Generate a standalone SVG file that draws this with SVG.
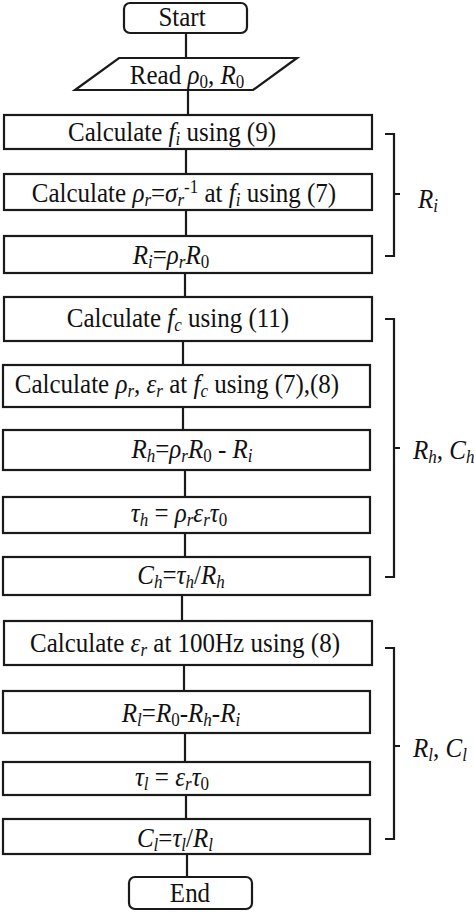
<svg xmlns="http://www.w3.org/2000/svg" width="474" height="912" viewBox="0 0 474 912">
<style>
.box{fill:#fff;stroke:#1a1a1a;stroke-width:2.2}
.c{stroke:#1a1a1a;stroke-width:2.2;fill:none}
.t{font-family:"Liberation Serif","Times New Roman",serif;font-size:25px;fill:#111;text-anchor:middle}
.l{text-anchor:start}
.i{font-style:italic}
.s{font-size:17px}
</style>
<rect width="474" height="912" fill="#fff"/>
<g id="connectors">
<path class="c" d="M186,33V58 M188,90V115 M186,149V174 M186,210V236 M185,273V297 M183,341V365 M183,407V430 M185,470V497 M185,533V557 M182,595V621 M184,665V691 M185,733V762 M186,795V819 M187,854V877"/>
</g>
<g id="start"><rect class="box" x="124" y="3" width="123" height="30" rx="6"/><text class="t" x="182" y="26" transform="matrix(1 0 0 1.08 0 -2.08)">Start</text></g>
<g id="read"><polygon class="box" points="119,58 297,58 253,90 75,90"/><text class="t" x="187" y="84" transform="matrix(1 0 0 1.08 0 -6.72)">Read <tspan class="i">ρ</tspan><tspan class="s" dy="4">0</tspan><tspan dy="-4">, </tspan><tspan class="i">R</tspan><tspan class="s" dy="4">0</tspan></text></g>
<g id="n1"><rect class="box" x="4" y="115" width="368" height="34"/><text class="t" x="172" y="141" transform="matrix(1 0 0 1.08 0 -11.28)">Calculate <tspan class="i">f</tspan><tspan class="s i" dy="4">i</tspan><tspan dy="-4"> using (9)</tspan></text></g>
<g id="n2"><rect class="box" x="4" y="174" width="368" height="36"/><text class="t" x="184" y="202" transform="matrix(1 0 0 1.08 0 -16.16)">Calculate <tspan class="i">ρ</tspan><tspan class="s i" dy="4">r</tspan><tspan dy="-4">=</tspan><tspan class="i">σ</tspan><tspan class="s i" dy="4">r</tspan><tspan class="s" dy="-12">-1</tspan><tspan dy="8"> at </tspan><tspan class="i">f</tspan><tspan class="s i" dy="4">i</tspan><tspan dy="-4"> using (7)</tspan></text></g>
<g id="n3"><rect class="box" x="4" y="236" width="368" height="37"/><text class="t" x="171" y="264" transform="matrix(1 0 0 1.08 0 -21.12)"><tspan class="i">R</tspan><tspan class="s i" dy="4">i</tspan><tspan dy="-4">=</tspan><tspan class="i">ρ</tspan><tspan class="s i" dy="4">r</tspan><tspan class="i" dy="-4">R</tspan><tspan class="s" dy="4">0</tspan></text></g>
<g id="n4"><rect class="box" x="4" y="297" width="368" height="44"/><text class="t" x="178" y="327" transform="matrix(1 0 0 1.08 0 -26.16)">Calculate <tspan class="i">f</tspan><tspan class="s i" dy="4">c</tspan><tspan dy="-4"> using (11)</tspan></text></g>
<g id="n5"><rect class="box" x="3" y="365" width="367" height="42"/><text class="t" x="177" y="393" transform="matrix(1 0 0 1.08 0 -31.44)">Calculate <tspan class="i">ρ</tspan><tspan class="s i" dy="4">r</tspan><tspan dy="-4">, </tspan><tspan class="i">ε</tspan><tspan class="s i" dy="4">r</tspan><tspan dy="-4"> at </tspan><tspan class="i">f</tspan><tspan class="s i" dy="4">c</tspan><tspan dy="-4"> using (7),(8)</tspan></text></g>
<g id="n6"><rect class="box" x="3" y="430" width="367" height="40"/><text class="t" x="192" y="458" transform="matrix(1 0 0 1.08 0 -36.64)"><tspan class="i">R</tspan><tspan class="s i" dy="4">h</tspan><tspan dy="-4">=</tspan><tspan class="i">ρ</tspan><tspan class="s i" dy="4">r</tspan><tspan class="i" dy="-4">R</tspan><tspan class="s" dy="4">0</tspan><tspan dy="-4"> - </tspan><tspan class="i">R</tspan><tspan class="s i" dy="4">i</tspan></text></g>
<g id="n7"><rect class="box" x="3" y="497" width="367" height="36"/><text class="t" x="179" y="522" transform="matrix(1 0 0 1.08 0 -41.76)"><tspan class="i">τ</tspan><tspan class="s i" dy="4">h</tspan><tspan dy="-4"> = </tspan><tspan class="i">ρ</tspan><tspan class="s i" dy="4">r</tspan><tspan class="i" dy="-4">ε</tspan><tspan class="s i" dy="4">r</tspan><tspan class="i" dy="-4">τ</tspan><tspan class="s" dy="4">0</tspan></text></g>
<g id="n8"><rect class="box" x="3" y="557" width="367" height="38"/><text class="t" x="181" y="584" transform="matrix(1 0 0 1.08 0 -46.72)"><tspan class="i">C</tspan><tspan class="s i" dy="4">h</tspan><tspan dy="-4">=</tspan><tspan class="i">τ</tspan><tspan class="s i" dy="4">h</tspan><tspan dy="-4">/</tspan><tspan class="i">R</tspan><tspan class="s i" dy="4">h</tspan></text></g>
<g id="n9"><rect class="box" x="4" y="621" width="368" height="44"/><text class="t" x="185" y="652" transform="matrix(1 0 0 1.08 0 -52.16)">Calculate <tspan class="i">ε</tspan><tspan class="s i" dy="4">r</tspan><tspan dy="-4"> at 100Hz using (8)</tspan></text></g>
<g id="n10"><rect class="box" x="3" y="691" width="367" height="42"/><text class="t" x="181" y="722" transform="matrix(1 0 0 1.08 0 -57.76)"><tspan class="i">R</tspan><tspan class="s i" dy="4">l</tspan><tspan dy="-4">=</tspan><tspan class="i">R</tspan><tspan class="s" dy="4">0</tspan><tspan dy="-4">-</tspan><tspan class="i">R</tspan><tspan class="s i" dy="4">h</tspan><tspan dy="-4">-</tspan><tspan class="i">R</tspan><tspan class="s i" dy="4">i</tspan></text></g>
<g id="n11"><rect class="box" x="3" y="762" width="367" height="33"/><text class="t" x="172" y="786" transform="matrix(1 0 0 1.08 0 -62.88)"><tspan class="i">τ</tspan><tspan class="s i" dy="4">l</tspan><tspan dy="-4"> = </tspan><tspan class="i">ε</tspan><tspan class="s i" dy="4">r</tspan><tspan class="i" dy="-4">τ</tspan><tspan class="s" dy="4">0</tspan></text></g>
<g id="n12"><rect class="box" x="3" y="819" width="367" height="35"/><text class="t" x="175" y="847" transform="matrix(1 0 0 1.08 0 -67.76)"><tspan class="i">C</tspan><tspan class="s i" dy="4">l</tspan><tspan dy="-4">=</tspan><tspan class="i">τ</tspan><tspan class="s i" dy="4">l</tspan><tspan dy="-4">/</tspan><tspan class="i">R</tspan><tspan class="s i" dy="4">l</tspan></text></g>
<g id="end"><rect class="box" x="129" y="877" width="123" height="32" rx="6"/><text class="t" x="190" y="902" transform="matrix(1 0 0 1.08 0 -72.16)">End</text></g>
<g id="bracket-ri"><path class="c" d="M385,134H394V256H385M394,194H400"/><text class="t l" x="418" y="208" transform="matrix(1 0 0 1.08 0 -16.64)"><tspan class="i">R</tspan><tspan class="s i" dy="4">i</tspan></text></g>
<g id="bracket-rh"><path class="c" d="M385,319H394V577H385M394,448H400"/><text class="t l" x="413" y="459" transform="matrix(1 0 0 1.08 0 -36.72)"><tspan class="i">R</tspan><tspan class="s i" dy="4">h</tspan><tspan dy="-4">, </tspan><tspan class="i">C</tspan><tspan class="s i" dy="4">h</tspan></text></g>
<g id="bracket-rl"><path class="c" d="M385,648H394V839H385M394,746H400"/><text class="t l" x="413" y="757" transform="matrix(1 0 0 1.08 0 -60.56)"><tspan class="i">R</tspan><tspan class="s i" dy="4">l</tspan><tspan dy="-4">, </tspan><tspan class="i">C</tspan><tspan class="s i" dy="4">l</tspan></text></g>
</svg>
